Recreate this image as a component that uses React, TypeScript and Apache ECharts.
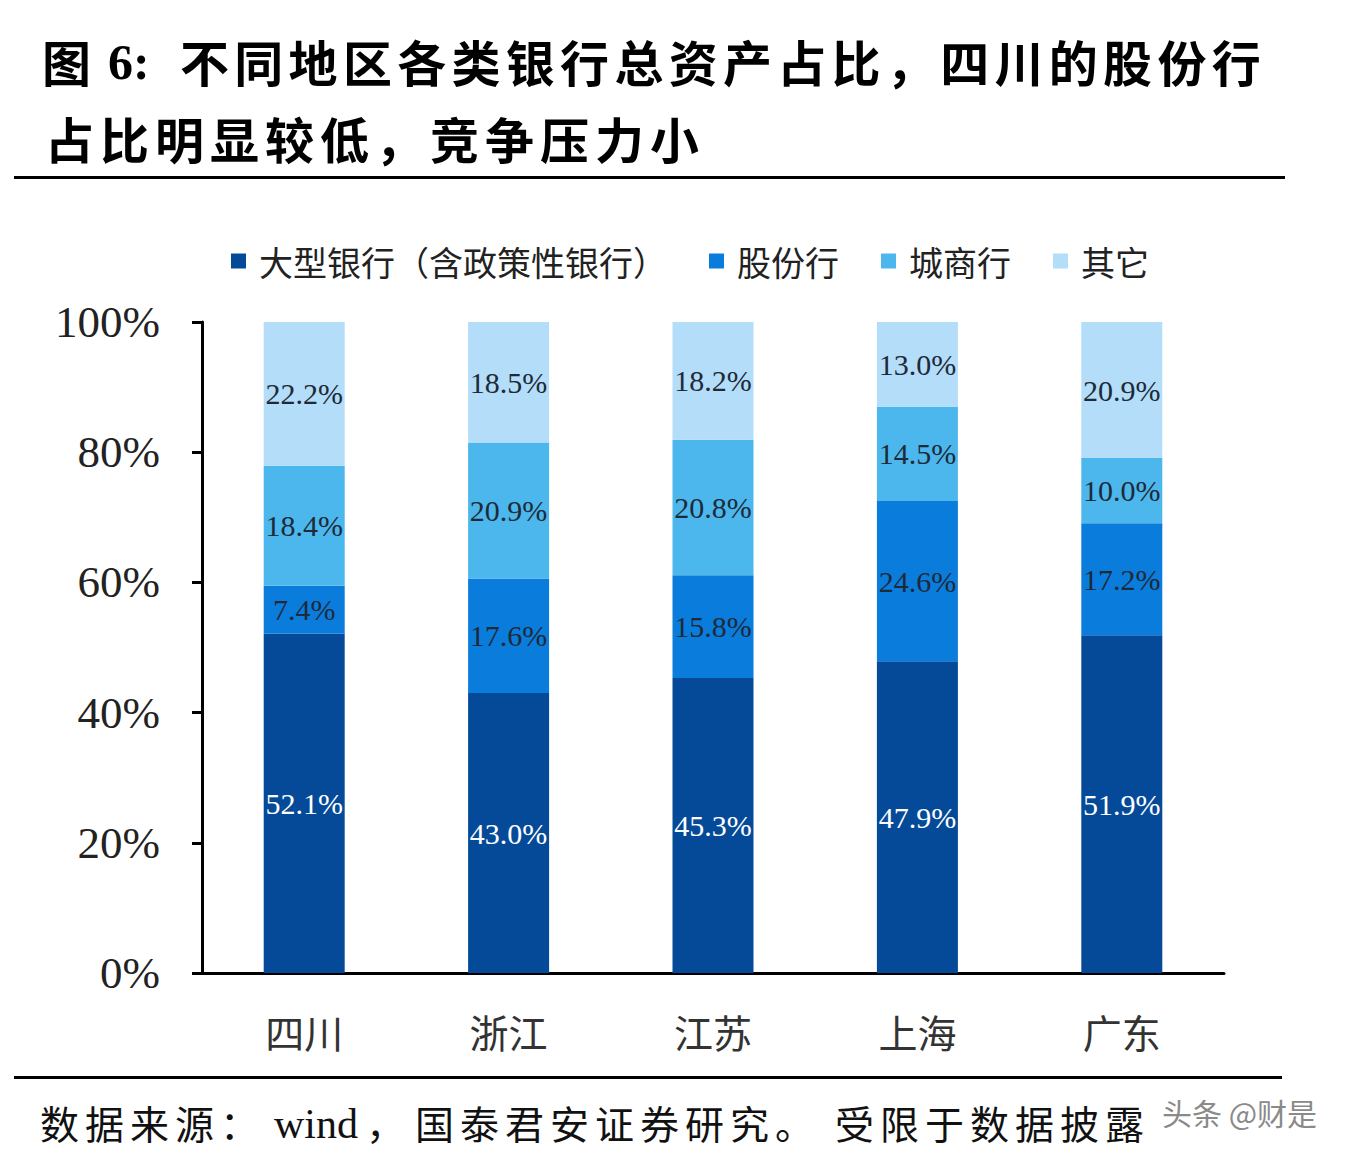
import React, { useEffect, useRef } from "react";
import * as echarts from "echarts";

const categories = ["四川", "浙江", "江苏", "上海", "广东"];
const seriesNames = ["大型银行（含政策性银行）", "股份行", "城商行", "其它"];
const bigBanks = [52.1, 43.0, 45.3, 47.9, 51.9];
const jointStock = [7.4, 17.6, 15.8, 24.6, 17.2];
const cityBanks = [18.4, 20.9, 20.8, 14.5, 10.0];
const others = [22.2, 18.5, 18.2, 13.0, 20.9];
const colors = ["#044A98", "#0A7CDC", "#4BB7EC", "#B3DDF9"];
const labelColors = ["#FFFFFF", "#1E2A38", "#1E2A38", "#1E2A38"];
const yTicks = [0, 20, 40, 60, 80, 100];

const titleLine1 = "不同地区各类银行总资产占比，四川的股份行";
const titleLine2 = "占比明显较低，竞争压力小";

const CJK = '"Noto Sans CJK SC", sans-serif';
const SERIF = '"Liberation Serif", "DejaVu Serif", serif';

function spaced(text: string, x: number, y: number, adv: number, font: any) {
  return Array.from(text).map((ch, i) => ({
    type: "text",
    x: x + i * adv,
    y,
    style: {
      text: ch,
      textVerticalAlign: "middle",
      textAlign: "left",
      ...font,
    },
  }));
}

export default function App() {
  const ref = useRef<HTMLDivElement>(null);
  useEffect(() => {
    if (!ref.current) return;
    const chart = echarts.init(ref.current, null, { renderer: "svg" });
    const data = [bigBanks, jointStock, cityBanks, others];
    const titleFont = { fontFamily: CJK, fontSize: 49, fontWeight: "bold", fill: "#000" };
    const footFont = { fontFamily: CJK, fontSize: 39, fontWeight: "normal", fill: "#111" };
    const graphic: any[] = [
      ...spaced("图", 42, 60, 54, titleFont),
      {
        type: "text",
        x: 108,
        y: 62,
        style: { text: "6:", fontFamily: SERIF, fontSize: 50, fontWeight: "bold", fill: "#000", textVerticalAlign: "middle" },
      },
      ...spaced(titleLine1, 180, 60, 54.3, titleFont),
      ...spaced(titleLine2, 45, 137, 55, titleFont),
      { type: "rect", shape: { x: 14, y: 176, width: 1271, height: 3 }, style: { fill: "#000" } },
      { type: "rect", shape: { x: 14, y: 1076, width: 1268, height: 3 }, style: { fill: "#000" } },
      ...spaced("数据来源：", 40, 1122, 45, footFont),
      {
        type: "text",
        x: 274,
        y: 1124,
        style: { text: "wind", fontFamily: SERIF, fontSize: 42, fill: "#111", textVerticalAlign: "middle" },
      },
      ...spaced("，", 366, 1122, 45, footFont),
      ...spaced("国泰君安证券研究。", 415, 1122, 45, footFont),
      ...spaced("受限于数据披露", 835, 1122, 45, footFont),
      {
        type: "text",
        x: 1162,
        y: 1112,
        style: {
          text: "头条 @财是",
          fontFamily: CJK,
          fontSize: 30,
          fill: "#8a8a8a",
          stroke: "#ffffff",
          lineWidth: 3,
          textVerticalAlign: "middle",
        },
      },
    ];

    chart.setOption({
      animation: false,
      backgroundColor: "#ffffff",
      color: colors,
      legend: {
        left: 226,
        top: 239,
        itemWidth: 15,
        itemHeight: 15,
        itemGap: 42,
        icon: "rect",
        textStyle: { fontFamily: CJK, fontSize: 34, color: "#222", padding: [0, 0, 0, 8] },
        data: seriesNames,
      },
      grid: { left: 202, right: 126, top: 322, bottom: 189 },
      xAxis: {
        type: "category",
        data: categories,
        axisLine: { lineStyle: { color: "#000", width: 3 } },
        axisTick: { show: false },
        axisLabel: { fontFamily: CJK, fontSize: 39, color: "#333", margin: 38 },
      },
      yAxis: {
        type: "value",
        min: 0,
        max: 100,
        interval: 20,
        splitLine: { show: false },
        axisLine: { show: true, lineStyle: { color: "#000", width: 3 } },
        axisTick: { show: true, inside: false, length: 10, lineStyle: { color: "#000", width: 3 } },
        axisLabel: {
          formatter: (v: number) => (yTicks.includes(v) ? `${v}%` : ""),
          fontFamily: SERIF,
          fontSize: 45,
          color: "#222",
          margin: 42,
        },
      },
      series: seriesNames.map((name, i) => ({
        name,
        type: "bar",
        stack: "total",
        barWidth: 81,
        data: data[i],
        itemStyle: { color: colors[i] },
        label: {
          show: true,
          position: "inside",
          formatter: (p: any) => `${Number(p.value).toFixed(1)}%`,
          fontFamily: SERIF,
          fontSize: 30,
          color: labelColors[i],
        },
      })),
      graphic,
    });
    return () => chart.dispose();
  }, []);
  return (
    <div
      ref={ref}
      style={{ position: "fixed", left: 0, top: 0, width: 1350, height: 1162, background: "#fff" }}
    />
  );
}
